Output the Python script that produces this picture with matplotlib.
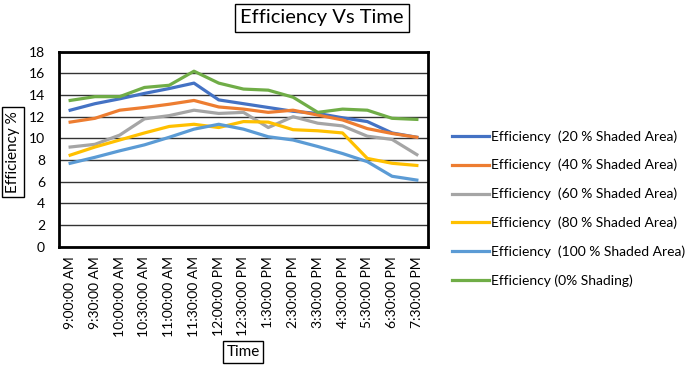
import matplotlib.pyplot as plt
import numpy as np

plt.rcParams['font.family'] = ['Lato', 'DejaVu Sans']

# Time labels along the x axis
times = ['9:00:00 AM', '9:30:00 AM', '10:00:00 AM', '10:30:00 AM', '11:00:00 AM',
         '11:30:00 AM', '12:00:00 PM', '12:30:00 PM', '1:30:00 PM', '2:30:00 PM',
         '3:30:00 PM', '4:30:00 PM', '5:30:00 PM', '6:30:00 PM', '7:30:00 PM']

# Efficiency values (%)
eff_20 = [12.6, 13.2, 13.65, 14.15, 14.6, 15.1, 13.55, 13.2, 12.85, 12.5, 12.3, 11.9, 11.55, 10.5, 10.1]
eff_40 = [11.5, 11.85, 12.6, 12.85, 13.15, 13.5, 12.9, 12.7, 12.4, 12.6, 12.15, 11.7, 10.9, 10.45, 10.1]
eff_60 = [9.2, 9.45, 10.3, 11.8, 12.1, 12.6, 12.3, 12.4, 11.0, 12.0, 11.4, 11.15, 10.2, 9.9, 8.5]
eff_80 = [8.45, 9.2, 9.85, 10.5, 11.1, 11.3, 11.0, 11.55, 11.5, 10.8, 10.7, 10.5, 8.15, 7.7, 7.5]
eff_100 = [7.7, 8.25, 8.85, 9.4, 10.1, 10.85, 11.3, 10.85, 10.15, 9.85, 9.25, 8.6, 7.85, 6.5, 6.15]
eff_0 = [13.5, 13.85, 13.85, 14.7, 14.9, 16.2, 15.1, 14.55, 14.45, 13.8, 12.4, 12.7, 12.6, 11.85, 11.75]

series = [
    ('Efficiency  (20 % Shaded Area)', eff_20, '#4472C4'),
    ('Efficiency  (40 % Shaded Area)', eff_40, '#ED7D31'),
    ('Efficiency  (60 % Shaded Area)', eff_60, '#A5A5A5'),
    ('Efficiency  (80 % Shaded Area)', eff_80, '#FFC000'),
    ('Efficiency  (100 % Shaded Area)', eff_100, '#5B9BD5'),
    ('Efficiency (0% Shading)', eff_0, '#70AD47'),
]

W, H = 685, 366
fig = plt.figure(figsize=(W / 100, H / 100), dpi=100)
left, right, top, bottom = 59, 428, 51.7, 246.7
ax = fig.add_axes([left / W, 1 - bottom / H, (right - left) / W, (bottom - top) / H])

x = np.arange(len(times))
for label, vals, color in series:
    ax.plot(x, vals, color=color, linewidth=2.3, label=label, solid_joinstyle='round')

ax.set_xlim(-0.45, len(times) - 0.55)
ax.set_ylim(0, 18)
ax.set_yticks(range(0, 19, 2))
ax.set_xticks(x)
ax.set_xticklabels(times, rotation=90, fontsize=10)
ax.tick_params(axis='y', labelsize=10, length=0, pad=10)
ax.tick_params(axis='x', length=0, pad=7)
ax.grid(axis='y', color='#333333', linewidth=1)
ax.set_axisbelow(True)
for sp in ax.spines.values():
    sp.set_linewidth(2)
    sp.set_color('black')

box = dict(boxstyle='square,pad=0.25', fc='white', ec='black', lw=1)
fig.text(322 / W, 1 - 18 / H, 'Efficiency Vs Time', ha='center', va='center',
         fontsize=14.5, bbox=box)
fig.text(13 / W, 1 - 152 / H, 'Efficiency %', ha='center', va='center',
         fontsize=11, rotation=90, bbox=box)
fig.text(243 / W, 1 - 352 / H, 'Time', ha='center', va='center',
         fontsize=11, bbox=box)

ax.legend(loc='upper left', bbox_to_anchor=(452 / W, 1 - 130 / H),
          bbox_transform=fig.transFigure, frameon=False, fontsize=10,
          handlelength=2.7, handletextpad=0.1, labelspacing=1.18,
          borderaxespad=0, borderpad=0)

fig.savefig('out.png', dpi=100)
